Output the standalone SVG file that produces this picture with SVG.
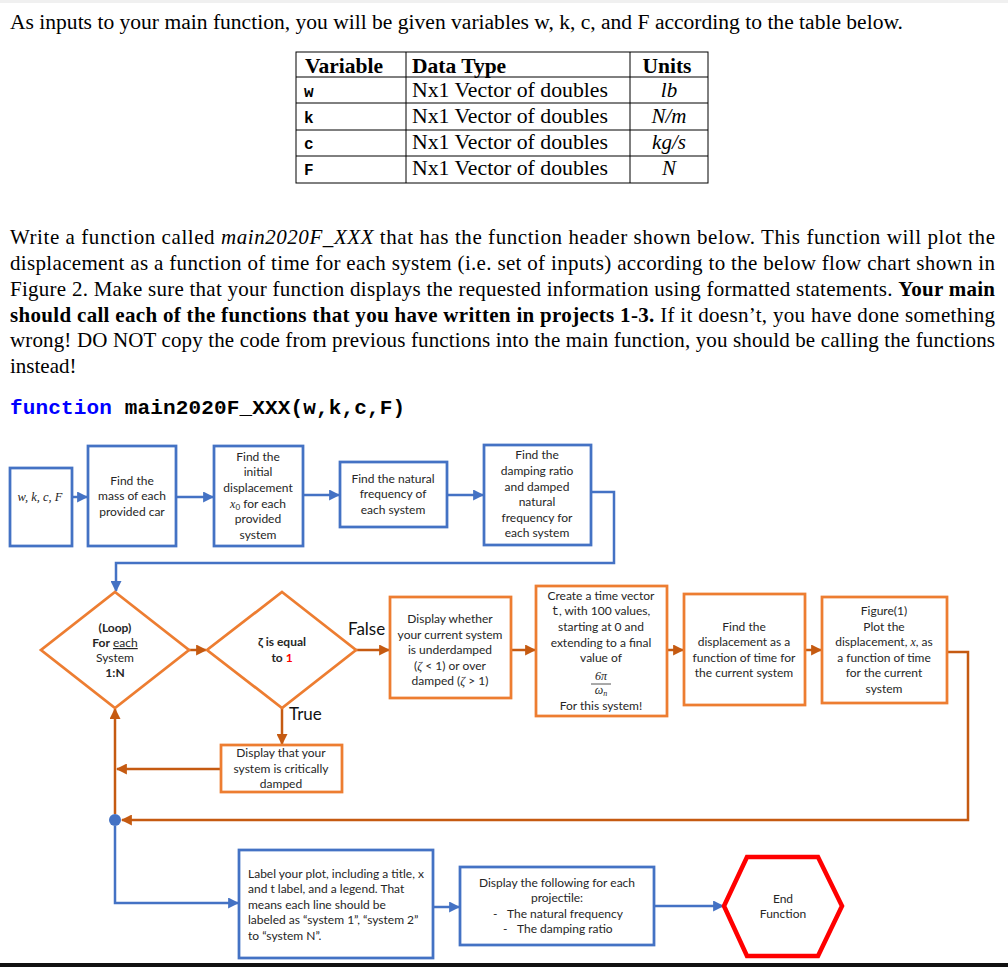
<svg xmlns="http://www.w3.org/2000/svg" width="1008" height="967" viewBox="0 0 1008 967">
<defs>
<style>
.t{font-family:"Liberation Serif",serif;font-size:21px;fill:#000}
.tb{font-family:"Liberation Serif",serif;font-size:21.5px;font-weight:bold;fill:#000}
.mono{font-family:"Liberation Mono",monospace;font-weight:bold}
.fc{font-family:Lato,"Liberation Sans",sans-serif;font-size:12px;fill:#262626;text-anchor:middle}
.fl{font-family:Lato,"Liberation Sans",sans-serif;font-size:12px;fill:#262626}
.lbl{font-family:Lato,"Liberation Sans",sans-serif;font-size:17px;fill:#111}
.math{font-family:"Liberation Serif",serif;font-style:italic}
.bbox{fill:#fff;stroke:#4472C4;stroke-width:2.75}
.obox{fill:#fff;stroke:#ED7D31;stroke-width:2.75}
.cb{fill:none;stroke:#4472C4;stroke-width:2.5}
.co{fill:none;stroke:#C55A11;stroke-width:2.5}
.grid{stroke:#000;stroke-width:1;fill:none}
</style>
<marker id="ab" viewBox="0 0 10 10" refX="9" refY="5" markerWidth="11" markerHeight="11" markerUnits="userSpaceOnUse" orient="auto"><path d="M0,0 L10,5 L0,10 z" fill="#4472C4"/></marker>
<marker id="ao" viewBox="0 0 10 10" refX="9" refY="5" markerWidth="11" markerHeight="11" markerUnits="userSpaceOnUse" orient="auto"><path d="M0,0 L10,5 L0,10 z" fill="#C55A11"/></marker>
</defs>
<rect x="0" y="0" width="1008" height="967" fill="#fff"/>
<rect x="0" y="0" width="1008" height="3" fill="#f0f0f0"/>

<g id="intro">
<text class="t" x="10" y="29" style="font-size:20px" textLength="893" lengthAdjust="spacingAndGlyphs">As inputs to your main function, you will be given variables w, k, c, and F according to the table below.</text>
</g>

<g id="table">
<rect class="grid" x="296" y="52" width="412" height="131"/>
<line class="grid" x1="406" y1="52" x2="406" y2="183"/>
<line class="grid" x1="630" y1="52" x2="630" y2="183"/>
<line class="grid" x1="296" y1="77" x2="708" y2="77"/>
<line class="grid" x1="296" y1="103" x2="708" y2="103"/>
<line class="grid" x1="296" y1="130" x2="708" y2="130"/>
<line class="grid" x1="296" y1="156" x2="708" y2="156"/>
<text class="tb" x="305" y="73">Variable</text>
<text class="tb" x="412" y="73">Data Type</text>
<text class="tb" x="667" y="73" text-anchor="middle">Units</text>
<text class="mono" x="304" y="97" font-size="16">w</text>
<text class="mono" x="304" y="123" font-size="16">k</text>
<text class="mono" x="304" y="149" font-size="16">c</text>
<text class="mono" x="304" y="175" font-size="16">F</text>
<text class="t" x="412" y="97" textLength="196" lengthAdjust="spacingAndGlyphs">Nx1 Vector of doubles</text>
<text class="t" x="412" y="123" textLength="196" lengthAdjust="spacingAndGlyphs">Nx1 Vector of doubles</text>
<text class="t" x="412" y="149" textLength="196" lengthAdjust="spacingAndGlyphs">Nx1 Vector of doubles</text>
<text class="t" x="412" y="175" textLength="196" lengthAdjust="spacingAndGlyphs">Nx1 Vector of doubles</text>
<text class="t math" x="669" y="97" text-anchor="middle">lb</text>
<text class="t math" x="669" y="123" text-anchor="middle">N/m</text>
<text class="t math" x="669" y="149" text-anchor="middle">kg/s</text>
<text class="t math" x="669" y="175" text-anchor="middle">N</text>
</g>

<g id="paragraph">
<text class="t" x="10" y="244" textLength="985" lengthAdjust="spacing">Write a function called <tspan font-style="italic">main2020F_XXX</tspan> that has the function header shown below.  This function will plot the</text>
<text class="t" x="10" y="270" textLength="985" lengthAdjust="spacing">displacement as a function of time for each system (i.e. set of inputs) according to the below flow chart shown in</text>
<text class="t" x="10" y="296" textLength="985" lengthAdjust="spacing">Figure 2.  Make sure that your function displays the requested information using formatted statements.  <tspan font-weight="bold">Your main</tspan></text>
<text class="t" x="10" y="322" textLength="985" lengthAdjust="spacing"><tspan font-weight="bold">should call each of the functions that you have written in projects 1-3.</tspan>  If it doesn’t, you have done something</text>
<text class="t" x="10" y="347" textLength="985" lengthAdjust="spacing">wrong!  DO NOT copy the code from previous functions into the main function, you should be calling the functions</text>
<text class="t" x="10" y="373">instead!</text>
</g>

<g id="header">
<text class="mono" x="10" y="414" font-size="21" textLength="395" lengthAdjust="spacing"><tspan fill="#0000FF">function</tspan> main2020F_XXX(w,k,c,F)</text>
</g>

<g id="connectors">
<path class="cb" d="M72,497 L87,497" marker-end="url(#ab)"/>
<path class="cb" d="M176,497 L213,497" marker-end="url(#ab)"/>
<path class="cb" d="M303,495 L339,495" marker-end="url(#ab)"/>
<path class="cb" d="M447,495 L483,495" marker-end="url(#ab)"/>
<path class="cb" d="M591,492 L614,492 L614,563 L116,563 L116,591" marker-end="url(#ab)"/>
<path class="co" d="M189,650 L206,650" marker-end="url(#ao)"/>
<path class="co" d="M356,650 L389,650" marker-end="url(#ao)"/>
<path class="co" d="M511,650 L535,650" marker-end="url(#ao)"/>
<path class="co" d="M667,650 L683,650" marker-end="url(#ao)"/>
<path class="co" d="M805,650 L821,650" marker-end="url(#ao)"/>
<path class="co" d="M947,652 L968,652 L968,820 L122,820" marker-end="url(#ao)"/>
<path class="co" d="M282,708 L282,744" marker-end="url(#ao)"/>
<path class="co" d="M221,769 L117,769" marker-end="url(#ao)"/>
<path class="co" d="M115,814 L115,709" marker-end="url(#ao)"/>
<path class="cb" d="M115,826 L115,903 L238,903" marker-end="url(#ab)"/>
<path class="cb" d="M433,907 L459,907" marker-end="url(#ab)"/>
<path class="cb" d="M654,906 L723,906" marker-end="url(#ab)"/>
<circle cx="115" cy="820" r="6" fill="#4472C4"/>
<text class="lbl" x="348" y="635">False</text>
<text class="lbl" x="289" y="720">True</text>
</g>

<g id="inputs">
<rect class="bbox" x="10" y="468" width="62" height="78"/>
<text class="math" x="40" y="501" style="font-size:12.5px;text-anchor:middle;fill:#222">w, k, c, F</text>
</g>

<g id="mass">
<rect class="bbox" x="88" y="446" width="88" height="100"/>
<text class="fc" x="132" y="485">Find the</text>
<text class="fc" x="132" y="500">mass of each</text>
<text class="fc" x="132" y="516">provided car</text>
</g>

<g id="x0">
<rect class="bbox" x="214" y="446" width="89" height="100"/>
<text class="fc" x="258" y="461">Find the</text>
<text class="fc" x="258" y="476">initial</text>
<text class="fc" x="258" y="492">displacement</text>
<text class="fc" x="258" y="508"><tspan class="math">x</tspan><tspan font-size="8" dy="2">0</tspan><tspan dy="-2"> for each</tspan></text>
<text class="fc" x="258" y="523">provided</text>
<text class="fc" x="258" y="539">system</text>
</g>

<g id="natfreq">
<rect class="bbox" x="340" y="462" width="107" height="65"/>
<text class="fc" x="393" y="483">Find the natural</text>
<text class="fc" x="393" y="498">frequency of</text>
<text class="fc" x="393" y="514">each system</text>
</g>

<g id="damping">
<rect class="bbox" x="484" y="445" width="107" height="100"/>
<text class="fc" x="537" y="459">Find the</text>
<text class="fc" x="537" y="475">damping ratio</text>
<text class="fc" x="537" y="491">and damped</text>
<text class="fc" x="537" y="506">natural</text>
<text class="fc" x="537" y="522">frequency for</text>
<text class="fc" x="537" y="537">each system</text>
</g>

<g id="loop">
<polygon class="obox" points="115,592 189,650 115,708 41,650"/>
<text class="fc" x="115" y="632" font-weight="bold">(Loop)</text>
<text class="fc" x="115" y="647"><tspan font-weight="bold">For</tspan> <tspan text-decoration="underline">each</tspan></text>
<text class="fc" x="115" y="662">System</text>
<text class="fc" x="115" y="677" font-weight="bold">1:N</text>
</g>

<g id="zeta">
<polygon class="obox" points="282,592 356,650 282,708 207,650"/>
<text class="fc" x="282" y="646" font-weight="bold">ζ is equal</text>
<text class="fc" x="282" y="662" font-weight="bold">to <tspan fill="#FF0000">1</tspan></text>
</g>

<g id="damptype">
<rect class="obox" x="390" y="597" width="121" height="101"/>
<text class="fc" x="450" y="623">Display whether</text>
<text class="fc" x="450" y="639">your current system</text>
<text class="fc" x="450" y="654">is underdamped</text>
<text class="fc" x="450" y="670">(<tspan class="math">ζ</tspan> &lt; 1) or over</text>
<text class="fc" x="450" y="685">damped (<tspan class="math">ζ</tspan> &gt; 1)</text>
</g>

<g id="timevec">
<rect class="obox" x="536" y="586" width="131" height="130"/>
<text class="fc" x="601" y="600">Create a time vector</text>
<text class="fc" x="601" y="615"><tspan font-family="Liberation Mono" font-weight="normal">t</tspan>, with 100 values,</text>
<text class="fc" x="601" y="631">starting at 0 and</text>
<text class="fc" x="601" y="647">extending to a final</text>
<text class="fc" x="601" y="662">value of</text>
<text class="fc math" x="601" y="680">6π</text>
<line x1="591" y1="684" x2="611" y2="684" stroke="#262626" stroke-width="0.8"/>
<text class="fc math" x="601" y="694">ω<tspan font-size="8" dy="2">n</tspan></text>
<text class="fc" x="601" y="710">For this system!</text>
</g>

<g id="displacement">
<rect class="obox" x="684" y="594" width="121" height="111"/>
<text class="fc" x="744" y="631">Find the</text>
<text class="fc" x="744" y="646">displacement as a</text>
<text class="fc" x="744" y="662">function of time for</text>
<text class="fc" x="744" y="677">the current system</text>
</g>

<g id="plot">
<rect class="obox" x="822" y="597" width="125" height="106"/>
<text class="fc" x="884" y="615">Figure(1)</text>
<text class="fc" x="884" y="631">Plot the</text>
<text class="fc" x="884" y="646">displacement, <tspan class="math">x</tspan>, as</text>
<text class="fc" x="884" y="662">a function of time</text>
<text class="fc" x="884" y="677">for the current</text>
<text class="fc" x="884" y="693">system</text>
</g>

<g id="critical">
<rect class="obox" x="221" y="745" width="121" height="47"/>
<text class="fc" x="281" y="757">Display that your</text>
<text class="fc" x="281" y="773">system is critically</text>
<text class="fc" x="281" y="788">damped</text>
</g>

<g id="label">
<rect class="bbox" x="239" y="850" width="194" height="108"/>
<text class="fl" x="248" y="878">Label your plot, including a title, x</text>
<text class="fl" x="248" y="893">and t label, and a legend.  That</text>
<text class="fl" x="248" y="909">means each line should be</text>
<text class="fl" x="248" y="924">labeled as “system 1”, “system 2”</text>
<text class="fl" x="248" y="940">to “system N”.</text>
</g>

<g id="display">
<rect class="bbox" x="460" y="867" width="194" height="78"/>
<text class="fc" x="557" y="887">Display the following for each</text>
<text class="fc" x="557" y="902">projectile:</text>
<text class="fl" x="493" y="918">-</text>
<text class="fl" x="507" y="918">The natural frequency</text>
<text class="fl" x="503" y="933">-</text>
<text class="fl" x="517" y="933">The damping ratio</text>
</g>

<g id="end">
<polygon points="724,906 747,857 818,857 842,906 818,956 747,956" fill="#fff" stroke="#FF0000" stroke-width="4.5"/>
<text class="fc" x="783" y="903">End</text>
<text class="fc" x="783" y="918">Function</text>
</g>

<rect x="0" y="963" width="1008" height="4" fill="#111"/>
</svg>
